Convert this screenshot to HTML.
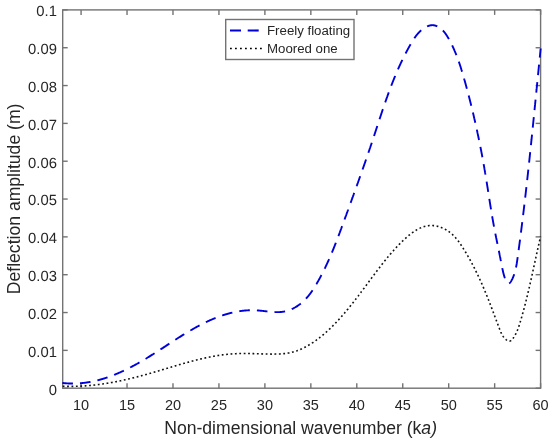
<!DOCTYPE html>
<html><head><meta charset="utf-8"><style>
html,body{margin:0;padding:0;background:#fff;width:550px;height:441px;overflow:hidden}
svg{display:block;filter:blur(0.3px)}
text{font-family:"Liberation Sans",Arial,sans-serif;fill:#262626}
</style></head><body>
<svg width="550" height="441" viewBox="0 0 550 441">
<rect width="550" height="441" fill="#fff"/>
<g stroke="#737373" stroke-width="1.4" fill="none">
<rect x="62.7" y="9.9" width="477.90000000000003" height="378.3"/>
<line x1="81.08" y1="388.2" x2="81.08" y2="383.2"/><line x1="81.08" y1="9.9" x2="81.08" y2="14.9"/><line x1="127.03" y1="388.2" x2="127.03" y2="383.2"/><line x1="127.03" y1="9.9" x2="127.03" y2="14.9"/><line x1="172.98" y1="388.2" x2="172.98" y2="383.2"/><line x1="172.98" y1="9.9" x2="172.98" y2="14.9"/><line x1="218.94" y1="388.2" x2="218.94" y2="383.2"/><line x1="218.94" y1="9.9" x2="218.94" y2="14.9"/><line x1="264.89" y1="388.2" x2="264.89" y2="383.2"/><line x1="264.89" y1="9.9" x2="264.89" y2="14.9"/><line x1="310.84" y1="388.2" x2="310.84" y2="383.2"/><line x1="310.84" y1="9.9" x2="310.84" y2="14.9"/><line x1="356.79" y1="388.2" x2="356.79" y2="383.2"/><line x1="356.79" y1="9.9" x2="356.79" y2="14.9"/><line x1="402.74" y1="388.2" x2="402.74" y2="383.2"/><line x1="402.74" y1="9.9" x2="402.74" y2="14.9"/><line x1="448.70" y1="388.2" x2="448.70" y2="383.2"/><line x1="448.70" y1="9.9" x2="448.70" y2="14.9"/><line x1="494.65" y1="388.2" x2="494.65" y2="383.2"/><line x1="494.65" y1="9.9" x2="494.65" y2="14.9"/><line x1="540.60" y1="388.2" x2="540.60" y2="383.2"/><line x1="540.60" y1="9.9" x2="540.60" y2="14.9"/><line x1="62.7" y1="388.20" x2="67.7" y2="388.20"/><line x1="540.6" y1="388.20" x2="535.6" y2="388.20"/><line x1="62.7" y1="350.37" x2="67.7" y2="350.37"/><line x1="540.6" y1="350.37" x2="535.6" y2="350.37"/><line x1="62.7" y1="312.54" x2="67.7" y2="312.54"/><line x1="540.6" y1="312.54" x2="535.6" y2="312.54"/><line x1="62.7" y1="274.71" x2="67.7" y2="274.71"/><line x1="540.6" y1="274.71" x2="535.6" y2="274.71"/><line x1="62.7" y1="236.88" x2="67.7" y2="236.88"/><line x1="540.6" y1="236.88" x2="535.6" y2="236.88"/><line x1="62.7" y1="199.05" x2="67.7" y2="199.05"/><line x1="540.6" y1="199.05" x2="535.6" y2="199.05"/><line x1="62.7" y1="161.22" x2="67.7" y2="161.22"/><line x1="540.6" y1="161.22" x2="535.6" y2="161.22"/><line x1="62.7" y1="123.39" x2="67.7" y2="123.39"/><line x1="540.6" y1="123.39" x2="535.6" y2="123.39"/><line x1="62.7" y1="85.56" x2="67.7" y2="85.56"/><line x1="540.6" y1="85.56" x2="535.6" y2="85.56"/><line x1="62.7" y1="47.73" x2="67.7" y2="47.73"/><line x1="540.6" y1="47.73" x2="535.6" y2="47.73"/><line x1="62.7" y1="9.90" x2="67.7" y2="9.90"/><line x1="540.6" y1="9.90" x2="535.6" y2="9.90"/>
</g>
<g font-size="14.5">
<text x="81.08" y="409.8" text-anchor="middle">10</text><text x="127.03" y="409.8" text-anchor="middle">15</text><text x="172.98" y="409.8" text-anchor="middle">20</text><text x="218.94" y="409.8" text-anchor="middle">25</text><text x="264.89" y="409.8" text-anchor="middle">30</text><text x="310.84" y="409.8" text-anchor="middle">35</text><text x="356.79" y="409.8" text-anchor="middle">40</text><text x="402.74" y="409.8" text-anchor="middle">45</text><text x="448.70" y="409.8" text-anchor="middle">50</text><text x="494.65" y="409.8" text-anchor="middle">55</text><text x="540.60" y="409.8" text-anchor="middle">60</text><text x="56.9" y="394.60" text-anchor="end" font-size="14.8" text-rendering="geometricPrecision">0</text><text x="56.9" y="356.77" text-anchor="end" font-size="14.8" text-rendering="geometricPrecision">0.01</text><text x="56.9" y="318.94" text-anchor="end" font-size="14.8" text-rendering="geometricPrecision">0.02</text><text x="56.9" y="281.11" text-anchor="end" font-size="14.8" text-rendering="geometricPrecision">0.03</text><text x="56.9" y="243.28" text-anchor="end" font-size="14.8" text-rendering="geometricPrecision">0.04</text><text x="56.9" y="205.45" text-anchor="end" font-size="14.8" text-rendering="geometricPrecision">0.05</text><text x="56.9" y="167.62" text-anchor="end" font-size="14.8" text-rendering="geometricPrecision">0.06</text><text x="56.9" y="129.79" text-anchor="end" font-size="14.8" text-rendering="geometricPrecision">0.07</text><text x="56.9" y="91.96" text-anchor="end" font-size="14.8" text-rendering="geometricPrecision">0.08</text><text x="56.9" y="54.13" text-anchor="end" font-size="14.8" text-rendering="geometricPrecision">0.09</text><text x="56.9" y="16.30" text-anchor="end" font-size="14.8" text-rendering="geometricPrecision">0.1</text>
</g>
<text x="300.6" y="434.2" font-size="17.6" text-anchor="middle">Non-dimensional wavenumber (k<tspan font-style="italic">a)</tspan></text>
<text transform="translate(19.8,198.9) rotate(-90)" font-size="17.6" text-anchor="middle">Deflection amplitude (m)</text>
<path d="M62.70,386.21 L63.27,386.24 L63.84,386.26 L64.41,386.28 L64.99,386.30 L65.56,386.31 L66.13,386.33 L66.70,386.34 L67.27,386.35 L67.84,386.36 L68.41,386.37 L68.99,386.38 L69.56,386.38 L70.13,386.39 L70.70,386.39 L71.27,386.39 L71.84,386.38 L72.41,386.38 L72.98,386.38 L73.55,386.37 L74.12,386.36 L74.69,386.35 L75.26,386.34 L75.83,386.32 L76.40,386.31 L76.97,386.29 L77.54,386.27 L78.11,386.25 L78.68,386.23 L79.24,386.21 L79.81,386.18 L80.38,386.16 L80.95,386.13 L81.52,386.10 L82.09,386.07 L82.65,386.04 L83.22,386.00 L83.79,385.97 L84.36,385.93 L84.92,385.89 L85.49,385.85 L86.06,385.81 L86.62,385.77 L87.19,385.72 L87.76,385.68 L88.32,385.63 L88.89,385.58 L89.46,385.53 L90.02,385.48 L90.59,385.42 L91.15,385.37 L91.72,385.31 L92.29,385.26 L92.85,385.20 L93.42,385.14 L93.98,385.08 L94.55,385.01 L95.11,384.95 L95.67,384.88 L96.24,384.82 L96.80,384.75 L97.37,384.68 L97.93,384.61 L98.49,384.54 L99.06,384.46 L99.62,384.39 L100.19,384.31 L100.75,384.24 L101.31,384.16 L101.87,384.08 L102.44,384.00 L103.00,383.92 L103.56,383.83 L104.12,383.75 L104.69,383.66 L105.25,383.57 L105.81,383.49 L106.37,383.40 L106.93,383.31 L107.49,383.22 L108.05,383.12 L108.62,383.03 L109.18,382.93 L109.74,382.84 L110.30,382.74 L110.86,382.64 L111.42,382.54 L111.98,382.44 L112.54,382.34 L113.10,382.24 L113.66,382.13 L114.22,382.03 L114.78,381.92 L115.33,381.81 L115.89,381.71 L116.45,381.60 L117.01,381.49 L117.57,381.38 L118.13,381.26 L118.68,381.15 L119.24,381.04 L119.80,380.92 L120.36,380.81 L120.91,380.69 L121.47,380.57 L122.03,380.45 L122.59,380.33 L123.14,380.21 L123.70,380.09 L124.26,379.97 L124.81,379.84 L125.37,379.72 L125.92,379.59 L126.48,379.47 L127.03,379.34 L127.59,379.21 L128.14,379.08 L128.70,378.95 L129.25,378.82 L129.81,378.69 L130.36,378.56 L130.92,378.42 L131.47,378.29 L132.03,378.16 L132.58,378.02 L133.13,377.88 L133.69,377.75 L134.24,377.61 L134.79,377.47 L135.34,377.33 L135.90,377.19 L136.45,377.05 L137.00,376.91 L137.55,376.77 L138.11,376.62 L138.66,376.48 L139.21,376.34 L139.76,376.19 L140.31,376.04 L140.86,375.90 L141.41,375.75 L141.96,375.60 L142.51,375.46 L143.06,375.31 L143.61,375.16 L144.16,375.01 L144.71,374.86 L145.26,374.70 L145.81,374.55 L146.36,374.40 L146.91,374.25 L147.46,374.09 L148.01,373.94 L148.56,373.78 L149.11,373.63 L149.65,373.47 L150.20,373.32 L150.75,373.16 L151.30,373.00 L151.84,372.84 L152.39,372.69 L152.94,372.53 L153.49,372.37 L154.03,372.21 L154.58,372.05 L155.13,371.89 L155.67,371.73 L156.22,371.57 L156.76,371.41 L157.31,371.24 L157.86,371.08 L158.40,370.92 L158.95,370.76 L159.49,370.60 L160.04,370.43 L160.59,370.27 L161.13,370.11 L161.68,369.95 L162.22,369.78 L162.77,369.62 L163.31,369.46 L163.86,369.29 L164.40,369.13 L164.95,368.97 L165.49,368.80 L166.04,368.64 L166.59,368.48 L167.13,368.31 L167.68,368.15 L168.22,367.98 L168.77,367.82 L169.31,367.66 L169.86,367.49 L170.40,367.33 L170.95,367.17 L171.49,367.01 L172.04,366.84 L172.58,366.68 L173.13,366.52 L173.67,366.36 L174.22,366.19 L174.76,366.03 L175.31,365.87 L175.86,365.71 L176.40,365.55 L176.95,365.39 L177.49,365.23 L178.04,365.07 L178.59,364.91 L179.13,364.75 L179.68,364.59 L180.23,364.43 L180.77,364.28 L181.32,364.12 L181.87,363.96 L182.41,363.80 L182.96,363.65 L183.51,363.49 L184.05,363.34 L184.60,363.18 L185.15,363.03 L185.70,362.88 L186.24,362.72 L186.79,362.57 L187.34,362.42 L187.89,362.27 L188.44,362.12 L188.99,361.97 L189.54,361.82 L190.09,361.67 L190.64,361.53 L191.18,361.38 L191.73,361.23 L192.28,361.09 L192.84,360.94 L193.39,360.80 L193.94,360.66 L194.49,360.52 L195.04,360.37 L195.59,360.23 L196.14,360.09 L196.69,359.96 L197.25,359.82 L197.80,359.68 L198.35,359.55 L198.91,359.41 L199.46,359.28 L200.01,359.15 L200.57,359.01 L201.12,358.88 L201.68,358.75 L202.23,358.63 L202.79,358.50 L203.34,358.37 L203.90,358.25 L204.45,358.12 L205.01,358.00 L205.56,357.88 L206.12,357.76 L206.68,357.64 L207.24,357.52 L207.79,357.41 L208.35,357.29 L208.91,357.18 L209.47,357.07 L210.02,356.95 L210.58,356.85 L211.14,356.74 L211.70,356.63 L212.26,356.52 L212.82,356.42 L213.38,356.32 L213.94,356.22 L214.50,356.12 L215.06,356.02 L215.62,355.92 L216.18,355.83 L216.75,355.74 L217.31,355.65 L217.87,355.56 L218.43,355.47 L218.99,355.38 L219.56,355.30 L220.12,355.22 L220.68,355.13 L221.25,355.05 L221.81,354.98 L222.37,354.90 L222.94,354.83 L223.50,354.76 L224.06,354.69 L224.63,354.62 L225.19,354.55 L225.76,354.49 L226.32,354.43 L226.89,354.37 L227.46,354.31 L228.02,354.25 L228.59,354.20 L229.15,354.14 L229.72,354.09 L230.29,354.05 L230.85,354.00 L231.42,353.96 L231.99,353.91 L232.56,353.88 L233.12,353.84 L233.69,353.80 L234.26,353.77 L234.83,353.74 L235.40,353.71 L235.96,353.69 L236.53,353.66 L237.10,353.64 L237.67,353.62 L238.24,353.60 L238.81,353.59 L239.38,353.57 L239.95,353.56 L240.52,353.55 L241.09,353.54 L241.66,353.53 L242.23,353.53 L242.80,353.52 L243.37,353.52 L243.94,353.52 L244.51,353.52 L245.08,353.52 L245.66,353.52 L246.23,353.53 L246.80,353.53 L247.37,353.54 L247.94,353.55 L248.51,353.56 L249.08,353.56 L249.65,353.57 L250.23,353.59 L250.80,353.60 L251.37,353.61 L251.94,353.62 L252.51,353.64 L253.08,353.65 L253.66,353.66 L254.23,353.68 L254.80,353.70 L255.37,353.71 L255.94,353.73 L256.52,353.74 L257.09,353.76 L257.66,353.78 L258.23,353.79 L258.80,353.81 L259.37,353.83 L259.95,353.84 L260.52,353.86 L261.09,353.88 L261.66,353.89 L262.23,353.91 L262.80,353.93 L263.37,353.94 L263.94,353.96 L264.52,353.97 L265.09,353.98 L265.66,354.00 L266.23,354.01 L266.80,354.02 L267.37,354.03 L267.94,354.04 L268.51,354.05 L269.08,354.06 L269.65,354.07 L270.22,354.07 L270.79,354.08 L271.36,354.08 L271.93,354.08 L272.50,354.08 L273.07,354.08 L273.64,354.08 L274.20,354.08 L274.77,354.08 L275.34,354.07 L275.91,354.06 L276.48,354.05 L277.04,354.04 L277.61,354.02 L278.18,354.00 L278.74,353.98 L279.31,353.96 L279.88,353.93 L280.44,353.90 L281.01,353.87 L281.57,353.83 L282.13,353.79 L282.70,353.75 L283.26,353.70 L283.82,353.64 L284.38,353.59 L284.94,353.53 L285.50,353.46 L286.06,353.39 L286.62,353.31 L287.17,353.23 L287.73,353.14 L288.29,353.05 L288.84,352.95 L289.40,352.85 L289.95,352.74 L290.50,352.62 L291.05,352.50 L291.60,352.37 L292.15,352.23 L292.70,352.09 L293.25,351.94 L293.79,351.79 L294.34,351.62 L294.88,351.46 L295.43,351.28 L295.97,351.10 L296.51,350.91 L297.05,350.72 L297.58,350.52 L298.12,350.32 L298.65,350.11 L299.19,349.89 L299.72,349.67 L300.25,349.44 L300.77,349.21 L301.30,348.98 L301.83,348.74 L302.35,348.49 L302.87,348.25 L303.39,347.99 L303.91,347.74 L304.42,347.48 L304.93,347.21 L305.44,346.94 L305.95,346.67 L306.46,346.39 L306.97,346.12 L307.47,345.83 L307.97,345.55 L308.47,345.26 L308.96,344.97 L309.45,344.68 L309.95,344.38 L310.43,344.08 L310.92,343.78 L311.40,343.48 L311.89,343.17 L312.37,342.86 L312.84,342.55 L313.32,342.24 L313.79,341.92 L314.26,341.60 L314.73,341.28 L315.20,340.95 L315.66,340.63 L316.13,340.30 L316.59,339.97 L317.05,339.63 L317.50,339.30 L317.96,338.96 L318.41,338.62 L318.86,338.28 L319.31,337.93 L319.76,337.58 L320.21,337.23 L320.65,336.88 L321.09,336.53 L321.53,336.17 L321.97,335.82 L322.41,335.46 L322.84,335.09 L323.27,334.73 L323.71,334.37 L324.14,334.00 L324.56,333.63 L324.99,333.26 L325.42,332.88 L325.84,332.51 L326.26,332.13 L326.68,331.75 L327.10,331.37 L327.52,330.99 L327.93,330.61 L328.35,330.22 L328.76,329.84 L329.17,329.45 L329.58,329.06 L329.99,328.67 L330.40,328.27 L330.80,327.88 L331.21,327.48 L331.61,327.09 L332.01,326.69 L332.41,326.29 L332.81,325.89 L333.21,325.48 L333.61,325.08 L334.01,324.67 L334.40,324.26 L334.79,323.86 L335.19,323.45 L335.58,323.04 L335.97,322.63 L336.36,322.21 L336.75,321.80 L337.13,321.38 L337.52,320.97 L337.91,320.55 L338.29,320.13 L338.67,319.71 L339.06,319.29 L339.44,318.87 L339.82,318.45 L340.20,318.03 L340.58,317.60 L340.95,317.18 L341.33,316.75 L341.71,316.32 L342.08,315.89 L342.46,315.47 L342.83,315.04 L343.20,314.61 L343.57,314.17 L343.95,313.74 L344.32,313.31 L344.68,312.87 L345.05,312.44 L345.42,312.00 L345.79,311.57 L346.15,311.13 L346.52,310.69 L346.89,310.26 L347.25,309.82 L347.61,309.38 L347.98,308.94 L348.34,308.49 L348.70,308.05 L349.06,307.61 L349.42,307.17 L349.78,306.72 L350.14,306.28 L350.50,305.83 L350.85,305.39 L351.21,304.94 L351.57,304.49 L351.92,304.05 L352.28,303.60 L352.63,303.15 L352.99,302.70 L353.34,302.25 L353.69,301.80 L354.04,301.35 L354.40,300.90 L354.75,300.45 L355.10,300.00 L355.45,299.55 L355.80,299.09 L356.15,298.64 L356.50,298.19 L356.85,297.73 L357.19,297.28 L357.54,296.83 L357.89,296.37 L358.24,295.92 L358.58,295.46 L358.93,295.01 L359.28,294.55 L359.62,294.09 L359.97,293.64 L360.31,293.18 L360.66,292.72 L361.00,292.27 L361.34,291.81 L361.69,291.35 L362.03,290.90 L362.37,290.44 L362.72,289.98 L363.06,289.52 L363.40,289.06 L363.74,288.61 L364.09,288.15 L364.43,287.69 L364.77,287.23 L365.11,286.77 L365.45,286.32 L365.79,285.86 L366.13,285.40 L366.48,284.94 L366.82,284.48 L367.16,284.03 L367.50,283.57 L367.84,283.11 L368.18,282.65 L368.52,282.19 L368.86,281.74 L369.20,281.28 L369.54,280.82 L369.88,280.36 L370.22,279.91 L370.56,279.45 L370.90,278.99 L371.24,278.54 L371.58,278.08 L371.92,277.62 L372.26,277.17 L372.60,276.71 L372.94,276.26 L373.28,275.80 L373.62,275.35 L373.96,274.89 L374.30,274.44 L374.64,273.98 L374.98,273.53 L375.32,273.08 L375.66,272.62 L376.01,272.17 L376.35,271.72 L376.69,271.27 L377.03,270.82 L377.37,270.37 L377.71,269.92 L378.06,269.47 L378.40,269.02 L378.74,268.57 L379.09,268.12 L379.43,267.67 L379.77,267.23 L380.12,266.78 L380.46,266.33 L380.81,265.89 L381.15,265.44 L381.50,265.00 L381.84,264.56 L382.19,264.11 L382.54,263.67 L382.88,263.23 L383.23,262.79 L383.58,262.34 L383.93,261.90 L384.28,261.46 L384.63,261.03 L384.98,260.59 L385.33,260.15 L385.69,259.71 L386.04,259.28 L386.39,258.84 L386.75,258.40 L387.11,257.97 L387.46,257.54 L387.82,257.10 L388.18,256.67 L388.54,256.24 L388.90,255.81 L389.27,255.37 L389.63,254.94 L390.00,254.51 L390.36,254.09 L390.73,253.66 L391.10,253.23 L391.47,252.80 L391.84,252.38 L392.21,251.95 L392.59,251.53 L392.96,251.10 L393.34,250.68 L393.72,250.26 L394.10,249.83 L394.48,249.41 L394.86,248.99 L395.25,248.57 L395.63,248.15 L396.02,247.73 L396.41,247.32 L396.80,246.90 L397.20,246.48 L397.59,246.07 L397.99,245.65 L398.39,245.24 L398.79,244.82 L399.19,244.41 L399.60,244.00 L400.00,243.59 L400.41,243.18 L400.82,242.77 L401.24,242.36 L401.65,241.95 L402.07,241.54 L402.49,241.14 L402.91,240.73 L403.34,240.33 L403.76,239.92 L404.19,239.52 L404.62,239.12 L405.05,238.72 L405.49,238.32 L405.93,237.93 L406.37,237.54 L406.81,237.15 L407.25,236.76 L407.70,236.37 L408.15,235.99 L408.60,235.62 L409.05,235.24 L409.51,234.87 L409.96,234.51 L410.42,234.14 L410.89,233.79 L411.35,233.43 L411.82,233.09 L412.28,232.74 L412.75,232.41 L413.23,232.07 L413.70,231.75 L414.18,231.43 L414.66,231.11 L415.14,230.80 L415.62,230.50 L416.11,230.21 L416.60,229.92 L417.09,229.64 L417.58,229.37 L418.07,229.10 L418.57,228.84 L419.07,228.59 L419.57,228.35 L420.07,228.11 L420.58,227.89 L421.08,227.67 L421.59,227.46 L422.10,227.27 L422.62,227.08 L423.13,226.90 L423.65,226.73 L424.17,226.57 L424.69,226.42 L425.21,226.28 L425.74,226.15 L426.27,226.03 L426.80,225.92 L427.33,225.83 L427.87,225.74 L428.40,225.67 L428.94,225.61 L429.48,225.56 L430.02,225.53 L430.57,225.50 L431.11,225.49 L431.66,225.49 L432.21,225.51 L432.77,225.53 L433.32,225.58 L433.88,225.63 L434.44,225.70 L434.99,225.78 L435.55,225.87 L436.11,225.97 L436.67,226.09 L437.23,226.22 L437.79,226.36 L438.35,226.51 L438.91,226.68 L439.47,226.85 L440.02,227.03 L440.57,227.23 L441.12,227.43 L441.67,227.65 L442.21,227.88 L442.75,228.11 L443.29,228.36 L443.82,228.61 L444.35,228.87 L444.88,229.14 L445.39,229.42 L445.91,229.71 L446.42,230.01 L446.92,230.31 L447.42,230.62 L447.91,230.94 L448.39,231.27 L448.86,231.60 L449.33,231.94 L449.79,232.29 L450.25,232.64 L450.70,233.00 L451.14,233.37 L451.57,233.74 L452.00,234.12 L452.42,234.50 L452.83,234.89 L453.24,235.29 L453.64,235.69 L454.04,236.09 L454.43,236.50 L454.82,236.92 L455.20,237.33 L455.58,237.76 L455.95,238.19 L456.32,238.62 L456.68,239.05 L457.04,239.49 L457.39,239.93 L457.74,240.38 L458.08,240.83 L458.43,241.28 L458.77,241.74 L459.10,242.20 L459.43,242.66 L459.76,243.13 L460.09,243.59 L460.41,244.06 L460.73,244.53 L461.05,245.01 L461.36,245.48 L461.68,245.96 L461.99,246.43 L462.30,246.91 L462.61,247.39 L462.91,247.87 L463.22,248.36 L463.52,248.84 L463.82,249.32 L464.13,249.81 L464.43,250.29 L464.73,250.78 L465.02,251.27 L465.32,251.75 L465.62,252.24 L465.91,252.73 L466.20,253.22 L466.49,253.71 L466.78,254.20 L467.07,254.69 L467.36,255.19 L467.65,255.68 L467.93,256.18 L468.22,256.67 L468.50,257.17 L468.78,257.66 L469.06,258.16 L469.34,258.66 L469.62,259.15 L469.90,259.65 L470.18,260.15 L470.45,260.65 L470.72,261.15 L471.00,261.66 L471.27,262.16 L471.54,262.66 L471.81,263.16 L472.08,263.67 L472.34,264.17 L472.61,264.68 L472.88,265.18 L473.14,265.69 L473.40,266.20 L473.67,266.70 L473.93,267.21 L474.19,267.72 L474.45,268.23 L474.70,268.74 L474.96,269.25 L475.22,269.76 L475.47,270.27 L475.72,270.78 L475.98,271.29 L476.23,271.80 L476.48,272.32 L476.73,272.83 L476.98,273.34 L477.23,273.86 L477.47,274.37 L477.72,274.89 L477.97,275.40 L478.21,275.92 L478.45,276.43 L478.70,276.95 L478.94,277.47 L479.18,277.98 L479.42,278.50 L479.66,279.02 L479.89,279.54 L480.13,280.06 L480.37,280.58 L480.60,281.10 L480.84,281.62 L481.07,282.14 L481.30,282.66 L481.53,283.18 L481.77,283.70 L482.00,284.22 L482.23,284.74 L482.45,285.26 L482.68,285.78 L482.91,286.31 L483.13,286.83 L483.36,287.35 L483.58,287.87 L483.81,288.40 L484.03,288.92 L484.25,289.45 L484.47,289.97 L484.70,290.49 L484.92,291.02 L485.13,291.54 L485.35,292.07 L485.57,292.59 L485.79,293.12 L486.00,293.64 L486.22,294.17 L486.43,294.69 L486.65,295.22 L486.86,295.74 L487.08,296.27 L487.29,296.80 L487.50,297.32 L487.71,297.85 L487.92,298.37 L488.13,298.90 L488.34,299.43 L488.55,299.95 L488.76,300.48 L488.96,301.01 L489.17,301.53 L489.37,302.06 L489.58,302.58 L489.78,303.11 L489.99,303.64 L490.19,304.16 L490.39,304.69 L490.60,305.22 L490.80,305.74 L491.00,306.27 L491.20,306.80 L491.40,307.32 L491.60,307.85 L491.80,308.38 L492.00,308.90 L492.20,309.43 L492.39,309.96 L492.59,310.48 L492.79,311.01 L492.99,311.54 L493.18,312.06 L493.38,312.59 L493.58,313.12 L493.77,313.64 L493.97,314.17 L494.17,314.70 L494.36,315.23 L494.56,315.76 L494.76,316.29 L494.96,316.82 L495.15,317.35 L495.35,317.88 L495.55,318.42 L495.75,318.95 L495.95,319.48 L496.15,320.02 L496.35,320.55 L496.55,321.09 L496.75,321.63 L496.96,322.17 L497.16,322.70 L497.37,323.25 L497.57,323.79 L497.78,324.33 L497.99,324.87 L498.19,325.42 L498.40,325.96 L498.61,326.51 L498.83,327.06 L499.04,327.61 L499.26,328.16 L499.47,328.71 L499.69,329.26 L499.91,329.82 L500.13,330.37 L500.36,330.92 L500.59,331.47 L500.82,332.02 L501.06,332.56 L501.31,333.10 L501.56,333.63 L501.83,334.16 L502.10,334.67 L502.38,335.18 L502.67,335.67 L502.97,336.16 L503.29,336.63 L503.62,337.09 L503.96,337.53 L504.31,337.96 L504.68,338.37 L505.07,338.77 L505.47,339.15 L505.89,339.50 L506.32,339.84 L506.78,340.16 L507.25,340.44 L507.73,340.70 L508.22,340.90 L508.71,341.04 L509.19,341.12 L509.67,341.12 L510.13,341.04 L510.57,340.86 L510.99,340.60 L511.40,340.28 L511.79,339.91 L512.17,339.49 L512.54,339.04 L512.90,338.57 L513.24,338.09 L513.57,337.61 L513.90,337.13 L514.21,336.64 L514.52,336.14 L514.81,335.64 L515.10,335.14 L515.37,334.64 L515.64,334.13 L515.90,333.62 L516.16,333.10 L516.40,332.58 L516.64,332.06 L516.88,331.54 L517.10,331.01 L517.32,330.48 L517.54,329.95 L517.75,329.42 L517.95,328.89 L518.15,328.35 L518.34,327.81 L518.54,327.27 L518.72,326.73 L518.91,326.19 L519.09,325.64 L519.26,325.10 L519.44,324.55 L519.61,324.01 L519.78,323.46 L519.95,322.91 L520.11,322.36 L520.28,321.81 L520.45,321.27 L520.61,320.72 L520.77,320.17 L520.94,319.62 L521.10,319.07 L521.26,318.52 L521.42,317.97 L521.58,317.42 L521.74,316.87 L521.90,316.32 L522.05,315.78 L522.21,315.23 L522.36,314.68 L522.52,314.13 L522.67,313.58 L522.83,313.03 L522.98,312.48 L523.13,311.93 L523.28,311.37 L523.43,310.82 L523.58,310.27 L523.73,309.72 L523.88,309.17 L524.03,308.62 L524.17,308.07 L524.32,307.52 L524.47,306.97 L524.61,306.42 L524.76,305.87 L524.90,305.31 L525.04,304.76 L525.18,304.21 L525.33,303.66 L525.47,303.11 L525.61,302.55 L525.75,302.00 L525.89,301.45 L526.03,300.90 L526.17,300.35 L526.30,299.79 L526.44,299.24 L526.58,298.69 L526.71,298.14 L526.85,297.58 L526.99,297.03 L527.12,296.48 L527.26,295.92 L527.39,295.37 L527.52,294.82 L527.66,294.27 L527.79,293.71 L527.92,293.16 L528.05,292.60 L528.18,292.05 L528.31,291.50 L528.44,290.94 L528.57,290.39 L528.70,289.84 L528.83,289.28 L528.96,288.73 L529.09,288.17 L529.22,287.62 L529.35,287.07 L529.47,286.51 L529.60,285.96 L529.73,285.40 L529.85,284.85 L529.98,284.29 L530.11,283.74 L530.23,283.19 L530.36,282.63 L530.48,282.08 L530.61,281.52 L530.73,280.97 L530.86,280.41 L530.98,279.86 L531.10,279.30 L531.23,278.75 L531.35,278.19 L531.47,277.64 L531.60,277.08 L531.72,276.53 L531.84,275.97 L531.96,275.42 L532.09,274.86 L532.21,274.31 L532.33,273.75 L532.45,273.19 L532.57,272.64 L532.69,272.08 L532.82,271.53 L532.94,270.97 L533.06,270.42 L533.18,269.86 L533.30,269.30 L533.42,268.75 L533.54,268.19 L533.66,267.64 L533.78,267.08 L533.90,266.53 L534.02,265.97 L534.15,265.41 L534.27,264.86 L534.39,264.30 L534.51,263.75 L534.63,263.19 L534.75,262.63 L534.87,262.08 L534.99,261.52 L535.11,260.96 L535.23,260.41 L535.35,259.85 L535.47,259.30 L535.59,258.74 L535.72,258.18 L535.84,257.63 L535.96,257.07 L536.08,256.51 L536.20,255.96 L536.32,255.40 L536.44,254.85 L536.57,254.29 L536.69,253.73 L536.81,253.18 L536.93,252.62 L537.05,252.06 L537.18,251.51 L537.30,250.95 L537.42,250.39 L537.55,249.84 L537.67,249.28 L537.79,248.72 L537.92,248.17 L538.04,247.61 L538.17,247.05 L538.29,246.50 L538.42,245.94 L538.54,245.39 L538.67,244.83 L538.79,244.27 L538.92,243.72 L539.05,243.16 L539.17,242.60 L539.30,242.05 L539.43,241.49 L539.55,240.93 L539.68,240.38 L539.81,239.82 L539.94,239.26 L540.07,238.71 L540.20,238.15 L540.33,237.60 L540.46,237.04 L540.59,236.48" fill="none" stroke="#111" stroke-width="1.6" stroke-dasharray="1.8 2.6"/>
<path d="M62.38,382.96 L62.84,383.01 L63.31,383.06 L63.77,383.11 L64.24,383.15 L64.70,383.19 L65.17,383.23 L65.63,383.27 L66.10,383.30 L66.56,383.34 L67.02,383.37 L67.48,383.39 L67.95,383.42 L68.41,383.44 L68.87,383.46 L69.33,383.48 L69.79,383.49 L70.25,383.51 L70.71,383.52 L71.17,383.53 L71.63,383.53 L72.09,383.54 L72.54,383.54 L73.00,383.54 L73.46,383.54 L73.92,383.53 L74.37,383.52 L74.83,383.51 L75.28,383.50 L75.74,383.49 L76.19,383.47 L76.65,383.45 L77.10,383.43 L77.56,383.41 L78.01,383.39 L78.46,383.36 L78.91,383.33 L79.37,383.30 L79.82,383.27 L80.27,383.23 L80.72,383.19 L81.17,383.15 L81.62,383.11 L82.07,383.07 L82.52,383.02 L82.97,382.97 L83.42,382.92 L83.87,382.87 L84.31,382.82 L84.76,382.76 L85.21,382.70 L85.65,382.64 L86.10,382.58 L86.54,382.52 L86.99,382.45 L87.43,382.38 L87.88,382.31 L88.32,382.24 L88.77,382.17 L89.21,382.09 L89.65,382.02 L90.10,381.94 L90.54,381.86 L90.98,381.77 L91.42,381.69 L91.86,381.60 L92.30,381.51 L92.74,381.42 L93.18,381.33 L93.62,381.24 L94.06,381.14 L94.50,381.05 L94.94,380.95 L95.37,380.85 L95.81,380.74 L96.25,380.64 L96.68,380.53 L97.12,380.43 L97.56,380.32 L97.99,380.21 L98.43,380.09 L98.86,379.98 L99.29,379.86 L99.73,379.74 L100.16,379.63 L100.59,379.50 L101.03,379.38 L101.46,379.26 L101.89,379.13 L102.32,379.00 L102.75,378.88 L103.18,378.75 L103.61,378.61 L104.04,378.48 L104.47,378.35 L104.90,378.21 L105.33,378.07 L105.76,377.93 L106.18,377.79 L106.61,377.65 L107.04,377.50 L107.46,377.36 L107.89,377.21 L108.32,377.06 L108.74,376.91 L109.17,376.76 L109.59,376.61 L110.01,376.46 L110.44,376.30 L110.86,376.14 L111.28,375.99 L111.71,375.83 L112.13,375.67 L112.55,375.50 L112.97,375.34 L113.39,375.18 L113.81,375.01 L114.23,374.84 L114.65,374.68 L115.07,374.51 L115.49,374.33 L115.91,374.16 L116.32,373.99 L116.74,373.81 L117.16,373.64 L117.58,373.46 L117.99,373.28 L118.41,373.10 L118.82,372.92 L119.24,372.74 L119.65,372.56 L120.07,372.38 L120.48,372.19 L120.90,372.00 L121.31,371.82 L121.72,371.63 L122.13,371.44 L122.55,371.25 L122.96,371.06 L123.37,370.86 L123.78,370.67 L124.19,370.48 L124.60,370.28 L125.01,370.08 L125.42,369.89 L125.83,369.69 L126.23,369.49 L126.64,369.29 L127.05,369.09 L127.46,368.88 L127.86,368.68 L128.27,368.47 L128.68,368.27 L129.08,368.06 L129.49,367.86 L129.89,367.65 L130.30,367.44 L130.70,367.23 L131.10,367.02 L131.51,366.81 L131.91,366.60 L132.31,366.38 L132.71,366.17 L133.11,365.95 L133.52,365.74 L133.92,365.52 L134.32,365.31 L134.72,365.09 L135.12,364.87 L135.51,364.65 L135.91,364.43 L136.31,364.21 L136.71,363.99 L137.11,363.77 L137.50,363.54 L137.90,363.32 L138.30,363.10 L138.69,362.87 L139.09,362.65 L139.48,362.42 L139.88,362.19 L140.27,361.97 L140.66,361.74 L141.06,361.51 L141.45,361.28 L141.84,361.05 L142.24,360.82 L142.63,360.59 L143.02,360.36 L143.41,360.13 L143.80,359.90 L144.19,359.67 L144.58,359.43 L144.97,359.20 L145.36,358.96 L145.75,358.73 L146.14,358.50 L146.52,358.26 L146.91,358.02 L147.30,357.79 L147.68,357.55 L148.07,357.31 L148.46,357.08 L148.84,356.84 L149.23,356.60 L149.61,356.36 L150.00,356.12 L150.38,355.88 L150.76,355.64 L151.15,355.40 L151.53,355.16 L151.91,354.92 L152.30,354.68 L152.68,354.44 L153.06,354.20 L153.44,353.96 L153.82,353.72 L154.21,353.47 L154.59,353.23 L154.97,352.99 L155.35,352.75 L155.73,352.50 L156.11,352.26 L156.49,352.01 L156.87,351.77 L157.25,351.53 L157.63,351.28 L158.01,351.04 L158.39,350.79 L158.77,350.55 L159.15,350.30 L159.52,350.06 L159.90,349.81 L160.28,349.57 L160.66,349.32 L161.04,349.08 L161.42,348.83 L161.79,348.58 L162.17,348.34 L162.55,348.09 L162.93,347.85 L163.30,347.60 L163.68,347.35 L164.06,347.11 L164.44,346.86 L164.82,346.62 L165.19,346.37 L165.57,346.12 L165.95,345.88 L166.32,345.63 L166.70,345.38 L167.08,345.14 L167.46,344.89 L167.83,344.64 L168.21,344.40 L168.59,344.15 L168.97,343.91 L169.34,343.66 L169.72,343.41 L170.10,343.17 L170.48,342.92 L170.86,342.68 L171.23,342.43 L171.61,342.19 L171.99,341.94 L172.37,341.70 L172.75,341.45 L173.12,341.21 L173.50,340.96 L173.88,340.72 L174.26,340.47 L174.64,340.23 L175.02,339.98 L175.40,339.74 L175.78,339.50 L176.16,339.25 L176.54,339.01 L176.92,338.77 L177.30,338.53 L177.68,338.28 L178.06,338.04 L178.44,337.80 L178.82,337.56 L179.20,337.32 L179.58,337.08 L179.97,336.84 L180.35,336.60 L180.73,336.36 L181.11,336.12 L181.50,335.88 L181.88,335.64 L182.26,335.40 L182.65,335.16 L183.03,334.92 L183.42,334.69 L183.80,334.45 L184.19,334.21 L184.57,333.98 L184.96,333.74 L185.34,333.51 L185.73,333.27 L186.12,333.04 L186.51,332.80 L186.89,332.57 L187.28,332.34 L187.67,332.11 L188.06,331.87 L188.45,331.64 L188.84,331.41 L189.23,331.18 L189.62,330.95 L190.01,330.72 L190.40,330.49 L190.79,330.26 L191.19,330.04 L191.58,329.81 L191.97,329.58 L192.37,329.36 L192.76,329.13 L193.16,328.91 L193.55,328.68 L193.95,328.46 L194.34,328.24 L194.74,328.02 L195.14,327.79 L195.53,327.57 L195.93,327.35 L196.33,327.14 L196.73,326.92 L197.13,326.70 L197.53,326.48 L197.93,326.27 L198.33,326.05 L198.73,325.84 L199.13,325.62 L199.53,325.41 L199.94,325.20 L200.34,324.99 L200.74,324.78 L201.15,324.57 L201.55,324.36 L201.96,324.16 L202.36,323.95 L202.77,323.74 L203.17,323.54 L203.58,323.34 L203.99,323.13 L204.39,322.93 L204.80,322.73 L205.21,322.53 L205.62,322.34 L206.03,322.14 L206.44,321.94 L206.85,321.75 L207.26,321.56 L207.67,321.36 L208.08,321.17 L208.49,320.98 L208.91,320.79 L209.32,320.60 L209.73,320.42 L210.15,320.23 L210.56,320.05 L210.97,319.86 L211.39,319.68 L211.80,319.50 L212.22,319.32 L212.64,319.15 L213.05,318.97 L213.47,318.79 L213.89,318.62 L214.31,318.45 L214.73,318.28 L215.14,318.11 L215.56,317.94 L215.98,317.77 L216.40,317.61 L216.83,317.44 L217.25,317.28 L217.67,317.12 L218.09,316.96 L218.51,316.80 L218.94,316.64 L219.36,316.49 L219.78,316.33 L220.21,316.18 L220.63,316.03 L221.06,315.88 L221.48,315.74 L221.91,315.59 L222.34,315.45 L222.76,315.30 L223.19,315.16 L223.62,315.02 L224.05,314.89 L224.48,314.75 L224.91,314.62 L225.34,314.48 L225.77,314.35 L226.20,314.22 L226.63,314.10 L227.06,313.97 L227.49,313.85 L227.92,313.72 L228.36,313.60 L228.79,313.49 L229.22,313.37 L229.66,313.25 L230.09,313.14 L230.53,313.03 L230.96,312.92 L231.40,312.81 L231.84,312.71 L232.27,312.61 L232.71,312.50 L233.15,312.41 L233.59,312.31 L234.02,312.21 L234.46,312.12 L234.90,312.03 L235.34,311.94 L235.78,311.85 L236.22,311.77 L236.66,311.68 L237.11,311.60 L237.55,311.52 L237.99,311.45 L238.43,311.37 L238.88,311.30 L239.32,311.23 L239.76,311.16 L240.21,311.10 L240.65,311.03 L241.10,310.97 L241.54,310.91 L241.99,310.85 L242.43,310.80 L242.88,310.75 L243.33,310.70 L243.77,310.65 L244.22,310.61 L244.67,310.56 L245.12,310.52 L245.57,310.48 L246.02,310.45 L246.47,310.42 L246.91,310.39 L247.36,310.36 L247.82,310.33 L248.27,310.31 L248.72,310.29 L249.17,310.27 L249.62,310.25 L250.07,310.24 L250.52,310.23 L250.98,310.22 L251.43,310.22 L251.88,310.22 L252.34,310.22 L252.79,310.22 L253.24,310.23 L253.70,310.23 L254.15,310.25 L254.61,310.26 L255.06,310.28 L255.52,310.30 L255.97,310.32 L256.43,310.34 L256.89,310.37" fill="none" stroke="#0000d8" stroke-width="1.9" stroke-dasharray="10.591 7.061"/><path d="M256.89,310.37 L257.34,310.40 L257.80,310.43 L258.26,310.47 L258.71,310.51 L259.17,310.55 L259.63,310.59 L260.09,310.63 L260.54,310.68 L261.00,310.72 L261.46,310.77 L261.92,310.82 L262.38,310.87 L262.83,310.92 L263.29,310.97 L263.75,311.03 L264.21,311.08 L264.67,311.13 L265.12,311.19 L265.58,311.24 L266.04,311.29 L266.50,311.34 L266.95,311.40 L267.41,311.45 L267.87,311.50 L268.32,311.55 L268.78,311.60 L269.23,311.65 L269.69,311.69 L270.15,311.74 L270.60,311.78 L271.06,311.82 L271.51,311.86 L271.96,311.90 L272.42,311.94 L272.87,311.97 L273.32,312.00 L273.78,312.03 L274.23,312.05 L274.68,312.07 L275.13,312.09 L275.58,312.11 L276.03,312.12 L276.48,312.13 L276.93,312.13 L277.37,312.13 L277.82,312.13 L278.27,312.12 L278.71,312.11 L279.16,312.10 L279.60,312.08 L280.04,312.05 L280.49,312.02 L280.93,311.98 L281.37,311.94 L281.81,311.90 L282.25,311.85 L282.69,311.79 L283.13,311.73 L283.56,311.66 L284.00,311.58 L284.43,311.50 L284.87,311.41 L285.30,311.32 L285.73,311.22 L286.16,311.11 L286.59,311.00 L287.02,310.88 L287.45,310.75 L287.87,310.62 L288.30,310.48 L288.72,310.34 L289.14,310.19 L289.56,310.03 L289.98,309.87 L290.40,309.71 L290.82,309.53 L291.23,309.36 L291.64,309.17 L292.05,308.98 L292.46,308.79 L292.87,308.59 L293.28,308.39 L293.68,308.18 L294.08,307.97 L294.48,307.75 L294.88,307.52 L295.28,307.30 L295.67,307.06 L296.06,306.83 L296.45,306.59 L296.84,306.34 L297.22,306.09 L297.60,305.84 L297.98,305.58 L298.36,305.31 L298.74,305.05 L299.11,304.78 L299.48,304.50 L299.85,304.23 L300.21,303.94 L300.57,303.66 L300.93,303.37 L301.29,303.08 L301.64,302.78 L301.99,302.49 L302.34,302.18 L302.69,301.88 L303.03,301.57 L303.37,301.26 L303.70,300.95 L304.04,300.63 L304.37,300.31 L304.69,299.99 L305.02,299.67 L305.34,299.34 L305.65,299.01 L305.97,298.68 L306.28,298.34 L306.58,298.01 L306.89,297.67 L307.19,297.33 L307.49,296.99 L307.78,296.64 L308.07,296.30 L308.36,295.95 L308.65,295.60 L308.93,295.24 L309.21,294.89 L309.49,294.53 L309.77,294.18 L310.04,293.82 L310.31,293.46 L310.58,293.09 L310.84,292.73 L311.11,292.36 L311.37,291.99 L311.63,291.63 L311.89,291.26 L312.14,290.88 L312.40,290.51 L312.65,290.14 L312.90,289.76 L313.15,289.38 L313.39,289.01 L313.64,288.63 L313.88,288.25 L314.12,287.87 L314.36,287.49 L314.60,287.10 L314.84,286.72 L315.07,286.34 L315.31,285.95 L315.54,285.57 L315.77,285.18 L316.01,284.79 L316.24,284.40 L316.47,284.02 L316.69,283.63 L316.92,283.24 L317.15,282.85 L317.37,282.46 L317.60,282.07 L317.82,281.68 L318.05,281.29 L318.27,280.89 L318.49,280.50 L318.71,280.11 L318.93,279.71 L319.15,279.32 L319.36,278.93 L319.58,278.53 L319.80,278.14 L320.01,277.74 L320.23,277.34 L320.44,276.95 L320.65,276.55 L320.87,276.15 L321.08,275.75 L321.29,275.36 L321.50,274.96 L321.70,274.56 L321.91,274.16 L322.12,273.76 L322.33,273.36 L322.53,272.96 L322.74,272.56 L322.94,272.15 L323.14,271.75 L323.35,271.35 L323.55,270.95 L323.75,270.54 L323.95,270.14 L324.15,269.73 L324.35,269.33 L324.55,268.92 L324.74,268.52 L324.94,268.11 L325.14,267.71 L325.33,267.30 L325.53,266.89 L325.72,266.49 L325.91,266.08 L326.11,265.67 L326.30,265.26 L326.49,264.85 L326.68,264.45 L326.87,264.04 L327.06,263.63 L327.25,263.22 L327.44,262.81 L327.62,262.40 L327.81,261.99 L328.00,261.57 L328.18,261.16 L328.37,260.75 L328.55,260.34 L328.74,259.93 L328.92,259.51 L329.10,259.10 L329.29,258.69 L329.47,258.27 L329.65,257.86 L329.83,257.45 L330.01,257.03 L330.19,256.62 L330.37,256.20 L330.55,255.79 L330.72,255.37 L330.90,254.95 L331.08,254.54 L331.25,254.12 L331.43,253.70 L331.61,253.29 L331.78,252.87 L331.96,252.45 L332.13,252.04 L332.30,251.62 L332.48,251.20 L332.65,250.78 L332.82,250.36 L332.99,249.94 L333.16,249.52 L333.33,249.11 L333.51,248.69 L333.68,248.27 L333.84,247.85 L334.01,247.43 L334.18,247.01 L334.35,246.59 L334.52,246.16 L334.69,245.74 L334.85,245.32 L335.02,244.90 L335.19,244.48 L335.35,244.06 L335.52,243.64 L335.69,243.21 L335.85,242.79 L336.02,242.37 L336.18,241.95 L336.34,241.52 L336.51,241.10 L336.67,240.68 L336.83,240.26 L337.00,239.83 L337.16,239.41 L337.32,238.99 L337.48,238.56 L337.65,238.14 L337.81,237.71 L337.97,237.29 L338.13,236.87 L338.29,236.44 L338.45,236.02 L338.61,235.59 L338.77,235.17 L338.93,234.74 L339.09,234.32 L339.25,233.89 L339.41,233.47 L339.57,233.04 L339.73,232.62 L339.88,232.19 L340.04,231.77 L340.20,231.34 L340.36,230.92 L340.52,230.49 L340.67,230.07 L340.83,229.64 L340.99,229.21 L341.15,228.79 L341.30,228.36 L341.46,227.94 L341.62,227.51 L341.77,227.09 L341.93,226.66 L342.09,226.23 L342.24,225.81 L342.40,225.38 L342.56,224.95 L342.71,224.53 L342.87,224.10 L343.02,223.68 L343.18,223.25 L343.33,222.82 L343.49,222.40 L343.65,221.97 L343.80,221.54 L343.96,221.12 L344.11,220.69 L344.27,220.27 L344.42,219.84 L344.58,219.41 L344.73,218.99 L344.89,218.56 L345.04,218.13 L345.20,217.71 L345.36,217.28 L345.51,216.86 L345.67,216.43 L345.82,216.00 L345.98,215.58 L346.13,215.15 L346.29,214.73 L346.44,214.30 L346.60,213.87 L346.75,213.45 L346.91,213.02 L347.06,212.60 L347.22,212.17 L347.37,211.74 L347.53,211.32 L347.68,210.89 L347.84,210.47 L347.99,210.04 L348.15,209.62 L348.30,209.19 L348.46,208.76 L348.61,208.34 L348.77,207.91 L348.92,207.49 L349.08,207.06 L349.23,206.64 L349.39,206.21 L349.54,205.78 L349.70,205.36 L349.85,204.93 L350.01,204.51 L350.16,204.08 L350.32,203.66 L350.47,203.23 L350.63,202.80 L350.78,202.38 L350.94,201.95 L351.09,201.53 L351.24,201.10 L351.40,200.68 L351.55,200.25 L351.71,199.82 L351.86,199.40 L352.02,198.97 L352.17,198.55 L352.32,198.12 L352.48,197.70 L352.63,197.27 L352.79,196.85 L352.94,196.42 L353.10,195.99 L353.25,195.57 L353.40,195.14 L353.56,194.72 L353.71,194.29 L353.86,193.87 L354.02,193.44 L354.17,193.01 L354.33,192.59 L354.48,192.16 L354.63,191.74 L354.79,191.31 L354.94,190.89 L355.09,190.46 L355.25,190.04 L355.40,189.61 L355.55,189.18 L355.71,188.76 L355.86,188.33 L356.01,187.91 L356.17,187.48 L356.32,187.06 L356.47,186.63 L356.62,186.20 L356.78,185.78 L356.93,185.35 L357.08,184.93 L357.24,184.50 L357.39,184.08 L357.54,183.65 L357.69,183.22 L357.85,182.80 L358.00,182.37 L358.15,181.95 L358.30,181.52 L358.45,181.09 L358.61,180.67 L358.76,180.24 L358.91,179.82 L359.06,179.39 L359.21,178.97 L359.37,178.54 L359.52,178.11 L359.67,177.69 L359.82,177.26 L359.97,176.84 L360.12,176.41 L360.28,175.98 L360.43,175.56 L360.58,175.13 L360.73,174.70 L360.88,174.28 L361.03,173.85 L361.18,173.43 L361.33,173.00 L361.48,172.57 L361.63,172.15 L361.79,171.72 L361.94,171.29 L362.09,170.87 L362.24,170.44 L362.39,170.02 L362.54,169.59 L362.69,169.16 L362.84,168.74 L362.99,168.31 L363.14,167.88 L363.29,167.46 L363.44,167.03 L363.59,166.60 L363.74,166.18 L363.89,165.75 L364.03,165.32 L364.18,164.90 L364.33,164.47 L364.48,164.04 L364.63,163.62 L364.78,163.19 L364.93,162.76 L365.08,162.34 L365.23,161.91 L365.38,161.48 L365.52,161.05 L365.67,160.63 L365.82,160.20 L365.97,159.77 L366.12,159.35 L366.26,158.92 L366.41,158.49 L366.56,158.06 L366.71,157.64 L366.86,157.21 L367.00,156.78 L367.15,156.35 L367.30,155.93 L367.45,155.50 L367.59,155.07 L367.74,154.64 L367.89,154.22 L368.03,153.79 L368.18,153.36 L368.33,152.93 L368.47,152.50 L368.62,152.08 L368.77,151.65 L368.91,151.22 L369.06,150.79 L369.20,150.37 L369.35,149.94 L369.50,149.51 L369.64,149.08 L369.79,148.65 L369.93,148.22 L370.08,147.80 L370.22,147.37 L370.37,146.94 L370.51,146.51 L370.66,146.08 L370.80,145.65 L370.95,145.22 L371.09,144.80 L371.24,144.37 L371.38,143.94 L371.52,143.51 L371.67,143.08 L371.81,142.65 L371.96,142.22 L372.10,141.79 L372.24,141.36 L372.39,140.94 L372.53,140.51 L372.67,140.08 L372.82,139.65 L372.96,139.22 L373.10,138.79 L373.24,138.36 L373.39,137.93 L373.53,137.50 L373.67,137.07 L373.81,136.64 L373.96,136.21 L374.10,135.78 L374.24,135.35 L374.38,134.92 L374.52,134.49 L374.67,134.06 L374.81,133.63 L374.95,133.20 L375.09,132.77 L375.23,132.34 L375.37,131.91 L375.51,131.48 L375.66,131.05 L375.80,130.62 L375.94,130.19 L376.08,129.76 L376.22,129.33 L376.36,128.90 L376.50,128.47 L376.64,128.04 L376.78,127.61 L376.93,127.18 L377.07,126.75 L377.21,126.32 L377.35,125.89 L377.49,125.46 L377.63,125.03 L377.77,124.60 L377.91,124.17 L378.05,123.74 L378.20,123.31 L378.34,122.88 L378.48,122.44 L378.62,122.01 L378.76,121.58 L378.90,121.15 L379.04,120.72 L379.19,120.29 L379.33,119.86 L379.47,119.43 L379.61,119.00 L379.75,118.57 L379.89,118.14 L380.04,117.71 L380.18,117.28 L380.32,116.85 L380.46,116.42 L380.61,115.99 L380.75,115.56 L380.89,115.13 L381.03,114.70 L381.18,114.27 L381.32,113.84 L381.46,113.42 L381.61,112.99 L381.75,112.56 L381.89,112.13 L382.04,111.70 L382.18,111.27 L382.33,110.84 L382.47,110.41 L382.61,109.98 L382.76,109.55 L382.90,109.12 L383.05,108.69 L383.19,108.27 L383.34,107.84 L383.49,107.41 L383.63,106.98 L383.78,106.55 L383.92,106.12 L384.07,105.69 L384.22,105.27 L384.36,104.84 L384.51,104.41 L384.66,103.98 L384.81,103.55 L384.95,103.13 L385.10,102.70 L385.25,102.27 L385.40,101.84 L385.55,101.42 L385.70,100.99 L385.85,100.56 L386.00,100.13 L386.15,99.71 L386.30,99.28 L386.45,98.85 L386.60,98.43 L386.75,98.00 L386.90,97.57 L387.05,97.15 L387.20,96.72 L387.36,96.30 L387.51,95.87 L387.66,95.45 L387.81,95.02 L387.97,94.59 L388.12,94.17 L388.28,93.74 L388.43,93.32 L388.59,92.89 L388.74,92.47 L388.90,92.04 L389.05,91.62 L389.21,91.20 L389.37,90.77 L389.52,90.35 L389.68,89.92 L389.84,89.50 L390.00,89.08 L390.16,88.65 L390.32,88.23 L390.48,87.81 L390.64,87.38 L390.80,86.96 L390.96,86.54 L391.12,86.12 L391.28,85.69 L391.44,85.27 L391.60,84.85 L391.77,84.43 L391.93,84.01 L392.10,83.59 L392.26,83.17 L392.42,82.74 L392.59,82.32 L392.76,81.90 L392.92,81.48 L393.09,81.06 L393.26,80.64 L393.42,80.22 L393.59,79.80 L393.76,79.38 L393.93,78.96 L394.10,78.55 L394.27,78.13 L394.44,77.71 L394.61,77.29 L394.78,76.87 L394.95,76.45 L395.13,76.04 L395.30,75.62 L395.47,75.20 L395.65,74.78 L395.82,74.37 L396.00,73.95 L396.18,73.54 L396.35,73.12 L396.53,72.70 L396.71,72.29 L396.89,71.87 L397.06,71.46 L397.24,71.04 L397.42,70.63 L397.60,70.21 L397.79,69.80 L397.97,69.38" fill="none" stroke="#0000d8" stroke-width="1.9" stroke-dasharray="10.625 7.083"/><path d="M397.97,69.38 L398.15,68.97 L398.33,68.56 L398.52,68.14 L398.70,67.73 L398.89,67.32 L399.07,66.91 L399.26,66.49 L399.44,66.08 L399.63,65.67 L399.82,65.26 L400.01,64.85 L400.20,64.44 L400.39,64.03 L400.58,63.62 L400.77,63.21 L400.96,62.80 L401.16,62.39 L401.35,61.98 L401.54,61.57 L401.74,61.16 L401.93,60.75 L402.13,60.34 L402.33,59.94 L402.52,59.53 L402.72,59.12 L402.92,58.71 L403.12,58.31 L403.32,57.90 L403.52,57.50 L403.73,57.09 L403.93,56.68 L404.13,56.28 L404.34,55.87 L404.54,55.47 L404.75,55.07 L404.95,54.66 L405.16,54.26 L405.37,53.86 L405.58,53.45 L405.79,53.05 L406.00,52.65 L406.21,52.25 L406.42,51.84 L406.63,51.44 L406.85,51.04 L407.06,50.64 L407.28,50.24 L407.49,49.84 L407.71,49.44 L407.93,49.04 L408.15,48.64 L408.36,48.25 L408.58,47.85 L408.81,47.45 L409.03,47.05 L409.25,46.65 L409.47,46.26 L409.70,45.86 L409.92,45.46 L410.15,45.07 L410.38,44.67 L410.60,44.28 L410.83,43.88 L411.06,43.49 L411.29,43.10 L411.53,42.70 L411.76,42.31 L412.00,41.92 L412.23,41.53 L412.47,41.14 L412.71,40.76 L412.95,40.37 L413.19,39.99 L413.44,39.60 L413.69,39.22 L413.94,38.84 L414.19,38.47 L414.44,38.09 L414.70,37.72 L414.96,37.35 L415.22,36.98 L415.49,36.62 L415.75,36.26 L416.03,35.90 L416.30,35.54 L416.58,35.19 L416.86,34.84 L417.14,34.49 L417.43,34.15 L417.72,33.81 L418.01,33.48 L418.31,33.14 L418.61,32.81 L418.92,32.49 L419.23,32.17 L419.54,31.85 L419.86,31.54 L420.18,31.24 L420.51,30.93 L420.84,30.64 L421.17,30.34 L421.52,30.06 L421.86,29.77 L422.21,29.50 L422.57,29.22 L422.93,28.96 L423.29,28.69 L423.66,28.44 L424.04,28.19 L424.42,27.94 L424.81,27.71 L425.20,27.47 L425.60,27.25 L426.01,27.03 L426.42,26.82 L426.83,26.61 L427.26,26.41 L427.68,26.22 L428.12,26.04 L428.55,25.88 L428.99,25.72 L429.44,25.59 L429.88,25.46 L430.33,25.36 L430.79,25.28 L431.24,25.22 L431.69,25.18 L432.15,25.16 L432.60,25.17 L433.06,25.19 L433.51,25.24 L433.96,25.31 L434.41,25.39 L434.85,25.49 L435.29,25.61 L435.72,25.74 L436.15,25.89 L436.57,26.05 L436.99,26.22 L437.40,26.41 L437.80,26.60 L438.19,26.81 L438.58,27.02 L438.96,27.25 L439.33,27.49 L439.70,27.74 L440.06,28.00 L440.42,28.26 L440.77,28.54 L441.12,28.82 L441.45,29.11 L441.79,29.41 L442.11,29.72 L442.44,30.04 L442.75,30.36 L443.07,30.69 L443.37,31.03 L443.67,31.37 L443.97,31.72 L444.26,32.07 L444.55,32.43 L444.83,32.79 L445.11,33.16 L445.39,33.53 L445.66,33.91 L445.92,34.29 L446.19,34.67 L446.45,35.06 L446.70,35.45 L446.95,35.84 L447.20,36.23 L447.44,36.63 L447.69,37.03 L447.92,37.42 L448.16,37.82 L448.39,38.22 L448.62,38.62 L448.85,39.02 L449.07,39.42 L449.30,39.82 L449.52,40.22 L449.73,40.62 L449.95,41.02 L450.16,41.42 L450.37,41.82 L450.58,42.22 L450.79,42.62 L450.99,43.03 L451.20,43.43 L451.40,43.83 L451.60,44.23 L451.80,44.64 L451.99,45.04 L452.19,45.45 L452.38,45.85 L452.58,46.26 L452.77,46.66 L452.96,47.07 L453.15,47.48 L453.33,47.89 L453.52,48.30 L453.70,48.71 L453.88,49.12 L454.07,49.53 L454.25,49.94 L454.43,50.35 L454.60,50.77 L454.78,51.18 L454.95,51.59 L455.13,52.01 L455.30,52.42 L455.47,52.84 L455.64,53.26 L455.81,53.67 L455.98,54.09 L456.15,54.51 L456.31,54.93 L456.48,55.35 L456.64,55.77 L456.80,56.19 L456.96,56.61 L457.12,57.03 L457.28,57.45 L457.44,57.87 L457.60,58.29 L457.76,58.72 L457.91,59.14 L458.06,59.56 L458.22,59.99 L458.37,60.41 L458.52,60.84 L458.67,61.26 L458.82,61.69 L458.97,62.11 L459.12,62.54 L459.26,62.97 L459.41,63.40 L459.55,63.82 L459.70,64.25 L459.84,64.68 L459.98,65.11 L460.13,65.54 L460.27,65.97 L460.41,66.40 L460.55,66.83 L460.68,67.26 L460.82,67.69 L460.96,68.12 L461.10,68.55 L461.23,68.98 L461.37,69.41 L461.50,69.85 L461.64,70.28 L461.77,70.71 L461.90,71.14 L462.03,71.58 L462.17,72.01 L462.30,72.44 L462.43,72.88 L462.56,73.31 L462.69,73.75 L462.81,74.18 L462.94,74.62 L463.07,75.05 L463.20,75.49 L463.32,75.92 L463.45,76.36 L463.58,76.79 L463.70,77.23 L463.83,77.66 L463.95,78.10 L464.07,78.54 L464.20,78.97 L464.32,79.41 L464.45,79.84 L464.57,80.28 L464.69,80.72 L464.81,81.15 L464.93,81.59 L465.06,82.03 L465.18,82.47 L465.30,82.90 L465.42,83.34 L465.54,83.78 L465.66,84.21 L465.78,84.65 L465.90,85.09 L466.02,85.53 L466.14,85.96 L466.26,86.40 L466.38,86.84 L466.50,87.28 L466.61,87.71 L466.73,88.15 L466.85,88.59 L466.97,89.03 L467.09,89.47 L467.20,89.90 L467.32,90.34 L467.44,90.78 L467.55,91.22 L467.67,91.66 L467.79,92.09 L467.90,92.53 L468.02,92.97 L468.13,93.41 L468.25,93.85 L468.36,94.29 L468.48,94.72 L468.59,95.16 L468.71,95.60 L468.82,96.04 L468.93,96.48 L469.05,96.92 L469.16,97.36 L469.27,97.80 L469.39,98.24 L469.50,98.67 L469.61,99.11 L469.72,99.55 L469.84,99.99 L469.95,100.43 L470.06,100.87 L470.17,101.31 L470.28,101.75 L470.39,102.19 L470.50,102.63 L470.61,103.07 L470.72,103.51 L470.83,103.95 L470.94,104.39 L471.05,104.83 L471.16,105.27 L471.27,105.71 L471.38,106.15 L471.48,106.59 L471.59,107.03 L471.70,107.47 L471.81,107.91 L471.92,108.35 L472.02,108.79 L472.13,109.23 L472.24,109.67 L472.34,110.11 L472.45,110.55 L472.56,110.99 L472.66,111.43 L472.77,111.87 L472.87,112.31 L472.98,112.75 L473.08,113.19 L473.19,113.63 L473.29,114.07 L473.40,114.51 L473.50,114.96 L473.60,115.40 L473.71,115.84 L473.81,116.28 L473.91,116.72 L474.02,117.16 L474.12,117.60 L474.22,118.04 L474.32,118.48 L474.42,118.93 L474.53,119.37 L474.63,119.81 L474.73,120.25 L474.83,120.69 L474.93,121.13 L475.03,121.57 L475.13,122.02 L475.23,122.46 L475.33,122.90 L475.43,123.34 L475.53,123.78 L475.63,124.22 L475.73,124.67 L475.83,125.11 L475.93,125.55 L476.02,125.99 L476.12,126.43 L476.22,126.88 L476.32,127.32 L476.41,127.76 L476.51,128.20 L476.61,128.65 L476.71,129.09 L476.80,129.53 L476.90,129.97 L476.99,130.41 L477.09,130.86 L477.19,131.30 L477.28,131.74 L477.38,132.18 L477.47,132.63 L477.57,133.07 L477.66,133.51 L477.75,133.96 L477.85,134.40 L477.94,134.84 L478.04,135.28 L478.13,135.73 L478.22,136.17 L478.31,136.61 L478.41,137.06 L478.50,137.50 L478.59,137.94 L478.68,138.38 L478.78,138.83 L478.87,139.27 L478.96,139.71 L479.05,140.16 L479.14,140.60 L479.23,141.04 L479.32,141.49 L479.41,141.93 L479.50,142.37 L479.59,142.82 L479.68,143.26 L479.77,143.70 L479.86,144.15 L479.95,144.59 L480.04,145.04 L480.13,145.48 L480.21,145.92 L480.30,146.37 L480.39,146.81 L480.48,147.25 L480.57,147.70 L480.65,148.14 L480.74,148.59 L480.83,149.03 L480.91,149.47 L481.00,149.92 L481.09,150.36 L481.17,150.81 L481.26,151.25 L481.34,151.69 L481.43,152.14 L481.51,152.58 L481.60,153.03 L481.68,153.47 L481.77,153.91 L481.85,154.36 L481.94,154.80 L482.02,155.25 L482.10,155.69 L482.19,156.14 L482.27,156.58 L482.35,157.03 L482.43,157.47 L482.52,157.91 L482.60,158.36 L482.68,158.80 L482.76,159.25 L482.84,159.69 L482.93,160.14 L483.01,160.58 L483.09,161.03 L483.17,161.47 L483.25,161.92 L483.33,162.36 L483.41,162.81 L483.49,163.25 L483.57,163.70 L483.65,164.14 L483.73,164.59 L483.81,165.03 L483.89,165.48 L483.96,165.92 L484.04,166.37 L484.12,166.81 L484.20,167.26 L484.28,167.70 L484.35,168.15 L484.43,168.59 L484.51,169.04 L484.59,169.48 L484.66,169.93 L484.74,170.37 L484.82,170.82 L484.89,171.26 L484.97,171.71 L485.04,172.16 L485.12,172.60 L485.19,173.05 L485.27,173.49 L485.34,173.94 L485.42,174.38 L485.49,174.83 L485.57,175.27 L485.64,175.72 L485.71,176.17 L485.79,176.61 L485.86,177.06 L485.94,177.50 L486.01,177.95 L486.08,178.39 L486.15,178.84 L486.23,179.29 L486.30,179.73 L486.37,180.18 L486.44,180.62 L486.51,181.07 L486.59,181.51 L486.66,181.96 L486.73,182.41 L486.80,182.85 L486.87,183.30 L486.94,183.74 L487.01,184.19 L487.09,184.64 L487.16,185.08 L487.23,185.53 L487.30,185.98 L487.37,186.42 L487.44,186.87 L487.51,187.31 L487.58,187.76 L487.65,188.21 L487.72,188.65 L487.79,189.10 L487.86,189.55 L487.93,189.99 L488.00,190.44 L488.07,190.88 L488.14,191.33 L488.21,191.78 L488.28,192.22 L488.35,192.67 L488.42,193.12 L488.49,193.56 L488.56,194.01 L488.63,194.46 L488.70,194.90 L488.77,195.35 L488.84,195.80 L488.91,196.24 L488.98,196.69 L489.05,197.14 L489.12,197.58 L489.19,198.03 L489.26,198.48 L489.33,198.92 L489.40,199.37 L489.47,199.82 L489.54,200.26 L489.61,200.71 L489.68,201.16 L489.75,201.61 L489.82,202.05 L489.89,202.50 L489.96,202.95 L490.03,203.39 L490.11,203.84 L490.18,204.29 L490.25,204.73 L490.32,205.18 L490.39,205.63 L490.46,206.08 L490.54,206.52 L490.61,206.97 L490.68,207.42 L490.75,207.87 L490.83,208.31 L490.90,208.76 L490.97,209.21 L491.04,209.66 L491.12,210.10 L491.19,210.55 L491.26,211.00 L491.34,211.45 L491.41,211.89 L491.49,212.34 L491.56,212.79 L491.64,213.24 L491.71,213.68 L491.79,214.13 L491.86,214.58 L491.94,215.03 L492.01,215.47 L492.09,215.92 L492.17,216.37 L492.24,216.82 L492.32,217.27 L492.40,217.71 L492.47,218.16 L492.55,218.61 L492.63,219.06 L492.71,219.51 L492.79,219.95 L492.87,220.40 L492.95,220.85 L493.03,221.30 L493.11,221.75 L493.19,222.19 L493.27,222.64 L493.35,223.09 L493.43,223.54 L493.51,223.99 L493.59,224.43 L493.67,224.88 L493.76,225.33 L493.84,225.78 L493.92,226.23 L494.01,226.68 L494.09,227.12 L494.18,227.57 L494.26,228.02 L494.35,228.47 L494.43,228.92 L494.52,229.37 L494.60,229.82 L494.69,230.26 L494.78,230.71 L494.87,231.16 L494.95,231.61 L495.04,232.06 L495.13,232.51 L495.22,232.95 L495.31,233.40 L495.40,233.85 L495.48,234.30 L495.57,234.75 L495.66,235.19 L495.75,235.64 L495.84,236.09 L495.93,236.54 L496.02,236.98 L496.11,237.43 L496.20,237.88 L496.30,238.32 L496.39,238.77 L496.48,239.22 L496.57,239.66 L496.66,240.11 L496.75,240.55 L496.84,241.00 L496.93,241.44 L497.02,241.89 L497.11,242.33 L497.21,242.78 L497.30,243.22 L497.39,243.67 L497.48,244.11 L497.57,244.55 L497.66,245.00 L497.75,245.44 L497.84,245.88 L497.93,246.32 L498.03,246.77 L498.12,247.21 L498.21,247.65 L498.30,248.09 L498.39,248.53 L498.48,248.97 L498.57,249.41 L498.66,249.85 L498.75,250.29 L498.84,250.72 L498.93,251.16 L499.01,251.60 L499.10,252.04 L499.19,252.47 L499.28,252.91 L499.37,253.35 L499.46,253.78 L499.54,254.22 L499.63,254.65 L499.72,255.08 L499.80,255.52 L499.89,255.95 L499.97,256.38 L500.06,256.81 L500.15,257.24 L500.23,257.67 L500.31,258.10 L500.40,258.53 L500.48,258.96 L500.56,259.39 L500.65,259.82 L500.73,260.25 L500.81,260.67 L500.89,261.10 L500.97,261.52 L501.05,261.95 L501.13,262.37 L501.21,262.80 L501.29,263.22 L501.37,263.65 L501.46,264.08 L501.54,264.51 L501.62,264.93 L501.70,265.37 L501.79,265.80 L501.88,266.23 L501.96,266.67 L502.05,267.11 L502.14,267.55 L502.24,268.00 L502.33,268.45 L502.43,268.90 L502.53,269.35 L502.63,269.81 L502.73,270.28 L502.84,270.75 L502.95,271.22 L503.06,271.70 L503.18,272.18 L503.30,272.67 L503.42,273.16 L503.55,273.66 L503.68,274.17 L503.82,274.68 L503.96,275.19 L504.10,275.70 L504.25,276.21 L504.41,276.72 L504.57,277.22 L504.74,277.71 L504.91,278.20 L505.09,278.68 L505.27,279.15 L505.46,279.61 L505.66,280.05 L505.87,280.47 L506.08,280.88 L506.30,281.27 L506.53,281.64 L506.77,281.98 L507.02,282.30 L507.27,282.59 L507.52,282.84 L507.79,283.05 L508.05,283.22 L508.31,283.34 L508.58,283.40 L508.85,283.41 L509.11,283.35" fill="none" stroke="#0000d8" stroke-width="1.9" stroke-dasharray="10.557 7.038"/><path d="M509.11,283.35 L509.37,283.24 L509.63,283.06 L509.88,282.84 L510.14,282.57 L510.38,282.27 L510.62,281.93 L510.86,281.57 L511.10,281.19 L511.32,280.80 L511.55,280.41 L511.76,280.01 L511.97,279.61 L512.18,279.20 L512.38,278.80 L512.57,278.39 L512.76,277.98 L512.94,277.57 L513.12,277.16 L513.29,276.75 L513.46,276.33 L513.62,275.91 L513.78,275.49 L513.94,275.07 L514.09,274.65 L514.23,274.23 L514.37,273.80 L514.51,273.38 L514.64,272.95 L514.77,272.52 L514.90,272.09 L515.02,271.66 L515.14,271.22 L515.25,270.79 L515.37,270.36 L515.47,269.92 L515.58,269.48 L515.68,269.04 L515.78,268.60 L515.88,268.16 L515.97,267.72 L516.06,267.28 L516.15,266.84 L516.24,266.39 L516.32,265.95 L516.40,265.50 L516.48,265.06 L516.56,264.61 L516.64,264.16 L516.71,263.71 L516.79,263.27 L516.86,262.82 L516.93,262.37 L517.00,261.92 L517.06,261.47 L517.13,261.02 L517.20,260.57 L517.26,260.12 L517.33,259.66 L517.39,259.21 L517.45,258.76 L517.52,258.31 L517.58,257.86 L517.64,257.41 L517.70,256.96 L517.77,256.50 L517.83,256.05 L517.89,255.60 L517.95,255.15 L518.01,254.70 L518.08,254.25 L518.14,253.80 L518.20,253.34 L518.26,252.89 L518.32,252.44 L518.38,251.99 L518.44,251.54 L518.51,251.09 L518.57,250.64 L518.63,250.18 L518.69,249.73 L518.75,249.28 L518.81,248.83 L518.87,248.38 L518.93,247.93 L518.99,247.48 L519.05,247.03 L519.11,246.58 L519.17,246.12 L519.23,245.67 L519.29,245.22 L519.35,244.77 L519.41,244.32 L519.47,243.87 L519.53,243.42 L519.59,242.97 L519.65,242.52 L519.71,242.06 L519.77,241.61 L519.83,241.16 L519.89,240.71 L519.95,240.26 L520.01,239.81 L520.06,239.36 L520.12,238.91 L520.18,238.46 L520.24,238.01 L520.30,237.56 L520.36,237.10 L520.42,236.65 L520.47,236.20 L520.53,235.75 L520.59,235.30 L520.65,234.85 L520.71,234.40 L520.76,233.95 L520.82,233.50 L520.88,233.05 L520.94,232.60 L521.00,232.15 L521.05,231.70 L521.11,231.25 L521.17,230.79 L521.22,230.34 L521.28,229.89 L521.34,229.44 L521.40,228.99 L521.45,228.54 L521.51,228.09 L521.57,227.64 L521.62,227.19 L521.68,226.74 L521.74,226.29 L521.79,225.84 L521.85,225.39 L521.91,224.94 L521.96,224.49 L522.02,224.04 L522.07,223.59 L522.13,223.14 L522.19,222.69 L522.24,222.24 L522.30,221.79 L522.35,221.33 L522.41,220.88 L522.47,220.43 L522.52,219.98 L522.58,219.53 L522.63,219.08 L522.69,218.63 L522.74,218.18 L522.80,217.73 L522.85,217.28 L522.91,216.83 L522.96,216.38 L523.02,215.93 L523.07,215.48 L523.13,215.03 L523.18,214.58 L523.24,214.13 L523.29,213.68 L523.35,213.23 L523.40,212.78 L523.45,212.33 L523.51,211.88 L523.56,211.43 L523.62,210.98 L523.67,210.53 L523.72,210.08 L523.78,209.63 L523.83,209.18 L523.89,208.73 L523.94,208.28 L523.99,207.83 L524.05,207.38 L524.10,206.93 L524.15,206.48 L524.21,206.03 L524.26,205.58 L524.31,205.13 L524.37,204.68 L524.42,204.23 L524.47,203.78 L524.53,203.33 L524.58,202.88 L524.63,202.43 L524.69,201.98 L524.74,201.53 L524.79,201.08 L524.84,200.63 L524.90,200.18 L524.95,199.73 L525.00,199.28 L525.05,198.83 L525.11,198.38 L525.16,197.93 L525.21,197.48 L525.26,197.03 L525.31,196.58 L525.37,196.13 L525.42,195.68 L525.47,195.23 L525.52,194.78 L525.57,194.33 L525.63,193.88 L525.68,193.43 L525.73,192.98 L525.78,192.53 L525.83,192.08 L525.88,191.63 L525.93,191.18 L525.99,190.73 L526.04,190.28 L526.09,189.83 L526.14,189.38 L526.19,188.93 L526.24,188.48 L526.29,188.03 L526.34,187.59 L526.39,187.14 L526.45,186.69 L526.50,186.24 L526.55,185.79 L526.60,185.34 L526.65,184.89 L526.70,184.44 L526.75,183.99 L526.80,183.54 L526.85,183.09 L526.90,182.64 L526.95,182.19 L527.00,181.74 L527.05,181.29 L527.10,180.84 L527.15,180.39 L527.20,179.94 L527.25,179.49 L527.30,179.04 L527.35,178.59 L527.40,178.14 L527.45,177.69 L527.50,177.24 L527.55,176.79 L527.60,176.34 L527.65,175.89 L527.70,175.44 L527.75,174.99 L527.80,174.55 L527.85,174.10 L527.90,173.65 L527.95,173.20 L527.99,172.75 L528.04,172.30 L528.09,171.85 L528.14,171.40 L528.19,170.95 L528.24,170.50 L528.29,170.05 L528.34,169.60 L528.39,169.15 L528.44,168.70 L528.49,168.25 L528.53,167.80 L528.58,167.35 L528.63,166.90 L528.68,166.45 L528.73,166.00 L528.78,165.55 L528.83,165.10 L528.87,164.65 L528.92,164.21 L528.97,163.76 L529.02,163.31 L529.07,162.86 L529.12,162.41 L529.16,161.96 L529.21,161.51 L529.26,161.06 L529.31,160.61 L529.36,160.16 L529.40,159.71 L529.45,159.26 L529.50,158.81 L529.55,158.36 L529.60,157.91 L529.64,157.46 L529.69,157.01 L529.74,156.56 L529.79,156.11 L529.83,155.66 L529.88,155.21 L529.93,154.76 L529.98,154.32 L530.03,153.87 L530.07,153.42 L530.12,152.97 L530.17,152.52 L530.21,152.07 L530.26,151.62 L530.31,151.17 L530.36,150.72 L530.40,150.27 L530.45,149.82 L530.50,149.37 L530.55,148.92 L530.59,148.47 L530.64,148.02 L530.69,147.57 L530.73,147.12 L530.78,146.67 L530.83,146.22 L530.87,145.77 L530.92,145.32 L530.97,144.87 L531.02,144.42 L531.06,143.98 L531.11,143.53 L531.16,143.08 L531.20,142.63 L531.25,142.18 L531.30,141.73 L531.34,141.28 L531.39,140.83 L531.44,140.38 L531.48,139.93 L531.53,139.48 L531.57,139.03 L531.62,138.58 L531.67,138.13 L531.71,137.68 L531.76,137.23 L531.81,136.78 L531.85,136.33 L531.90,135.88 L531.95,135.43 L531.99,134.98 L532.04,134.53 L532.08,134.08 L532.13,133.63 L532.18,133.18 L532.22,132.73 L532.27,132.28 L532.31,131.84 L532.36,131.39 L532.41,130.94 L532.45,130.49 L532.50,130.04 L532.54,129.59 L532.59,129.14 L532.64,128.69 L532.68,128.24 L532.73,127.79 L532.77,127.34 L532.82,126.89 L532.87,126.44 L532.91,125.99 L532.96,125.54 L533.00,125.09 L533.05,124.64 L533.09,124.19 L533.14,123.74 L533.19,123.29 L533.23,122.84 L533.28,122.39 L533.32,121.94 L533.37,121.49 L533.41,121.04 L533.46,120.59 L533.50,120.14 L533.55,119.69 L533.60,119.24 L533.64,118.79 L533.69,118.34 L533.73,117.89 L533.78,117.44 L533.82,116.99 L533.87,116.54 L533.91,116.09 L533.96,115.64 L534.00,115.19 L534.05,114.74 L534.10,114.29 L534.14,113.84 L534.19,113.39 L534.23,112.94 L534.28,112.49 L534.32,112.04 L534.37,111.59 L534.41,111.14 L534.46,110.69 L534.50,110.24 L534.55,109.79 L534.59,109.34 L534.64,108.89 L534.68,108.44 L534.73,107.99 L534.77,107.54 L534.82,107.09 L534.86,106.64 L534.91,106.19 L534.95,105.74 L535.00,105.29 L535.04,104.84 L535.09,104.39 L535.13,103.94 L535.18,103.49 L535.22,103.04 L535.27,102.59 L535.31,102.14 L535.36,101.69 L535.40,101.24 L535.45,100.79 L535.49,100.34 L535.54,99.89 L535.58,99.44 L535.63,98.99 L535.67,98.54 L535.72,98.09 L535.76,97.64 L535.81,97.19 L535.85,96.74 L535.90,96.29 L535.94,95.84 L535.99,95.39 L536.03,94.94 L536.08,94.49 L536.12,94.04 L536.17,93.59 L536.21,93.13 L536.26,92.68 L536.30,92.23 L536.35,91.78 L536.39,91.33 L536.44,90.88 L536.48,90.43 L536.53,89.98 L536.57,89.53 L536.62,89.08 L536.66,88.63 L536.71,88.18 L536.75,87.73 L536.80,87.28 L536.84,86.83 L536.89,86.38 L536.93,85.93 L536.98,85.48 L537.02,85.03 L537.07,84.57 L537.11,84.12 L537.16,83.67 L537.20,83.22 L537.25,82.77 L537.29,82.32 L537.34,81.87 L537.38,81.42 L537.43,80.97 L537.47,80.52 L537.52,80.07 L537.56,79.62 L537.61,79.17 L537.65,78.71 L537.70,78.26 L537.74,77.81 L537.79,77.36 L537.83,76.91 L537.88,76.46 L537.92,76.01 L537.97,75.56 L538.01,75.11 L538.06,74.66 L538.10,74.21 L538.15,73.75 L538.19,73.30 L538.24,72.85 L538.28,72.40 L538.33,71.95 L538.37,71.50 L538.42,71.05 L538.46,70.60 L538.51,70.15 L538.55,69.69 L538.60,69.24 L538.64,68.79 L538.69,68.34 L538.74,67.89 L538.78,67.44 L538.83,66.99 L538.87,66.54 L538.92,66.09 L538.96,65.63 L539.01,65.18 L539.05,64.73 L539.10,64.28 L539.14,63.83 L539.19,63.38 L539.23,62.93 L539.28,62.47 L539.32,62.02 L539.37,61.57 L539.42,61.12 L539.46,60.67 L539.51,60.22 L539.55,59.77 L539.60,59.31 L539.64,58.86 L539.69,58.41 L539.73,57.96 L539.78,57.51" fill="none" stroke="#0000d8" stroke-width="1.9" stroke-dasharray="10.567 7.045"/><path d="M539.78,57.51 L539.82,57.06 L539.87,56.60 L539.92,56.15 L539.96,55.70 L540.01,55.25 L540.05,54.80 L540.10,54.35 L540.14,53.89 L540.19,53.44 L540.24,52.99 L540.28,52.54 L540.33,52.09 L540.37,51.63 L540.42,51.18 L540.46,50.73 L540.51,50.28 L540.56,49.83 L540.60,49.38 L540.65,48.92 L540.69,48.47" fill="none" stroke="#0000d8" stroke-width="1.9" stroke-dasharray="10.5 7"/>
<rect x="225.7" y="19.5" width="128.3" height="40" fill="#fff" stroke="#737373" stroke-width="1.4"/>
<line x1="230" y1="30.5" x2="259" y2="30.5" stroke="#0000d8" stroke-width="2.1" stroke-dasharray="11 6.7"/>
<line x1="230" y1="48.5" x2="262" y2="48.5" stroke="#000" stroke-width="1.6" stroke-dasharray="1.8 3.2"/>
<text x="267" y="35.4" font-size="13.25">Freely floating</text>
<text x="267" y="53.4" font-size="13.25">Moored one</text>
</svg>
</body></html>
